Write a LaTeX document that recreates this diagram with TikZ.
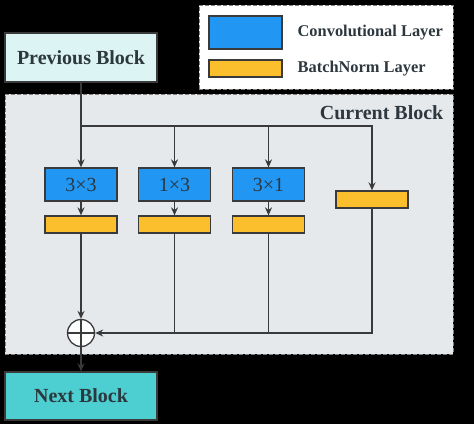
\documentclass[tikz,border=0pt]{standalone}
\usepackage{fontspec}
\setmainfont{Liberation Serif}
\usetikzlibrary{arrows.meta}
\definecolor{convblue}{RGB}{33,150,243}
\definecolor{bnorange}{RGB}{251,191,45}
\definecolor{linegray}{RGB}{58,58,58}
\definecolor{prevfill}{RGB}{221,244,244}
\definecolor{nextfill}{RGB}{77,206,208}
\definecolor{curfill}{RGB}{230,233,236}
\definecolor{txtgray}{RGB}{45,55,62}
\begin{document}
\begin{tikzpicture}[x=1pt,y=-1pt,line width=1.3pt,>={Stealth[length=8pt,width=7pt]},
  conv/.style={draw=linegray,fill=convblue,minimum width=72pt,minimum height=33pt,inner sep=0pt,
    font=\fontsize{20}{24}\selectfont,text=txtgray},
  bn/.style={draw=linegray,fill=bnorange,minimum width=72pt,minimum height=17pt,inner sep=0pt},
  blk/.style={draw=linegray,minimum width=152pt,minimum height=49pt,inner sep=0pt,
    font=\fontsize{20}{24}\selectfont\bfseries,text=txtgray},
  frame/.style={draw=gray,dash pattern=on 4pt off 2pt,line width=1pt,inner sep=0pt},
  lbl/.style={font=\fontsize{16.4}{20}\selectfont\bfseries,text=txtgray,anchor=west,inner sep=0pt},
  link/.style={draw=linegray}]
\useasboundingbox[fill=black] (0,0) rectangle (474,424);
\node[frame,fill=white,minimum width=254pt,minimum height=84pt] (legend) at (326,47) {};
\node[conv,minimum width=73pt] (keyconv) at (245.5,32.5) {};
\node[bn,minimum width=73pt] (keybn) at (245.5,68.5) {};
\node[lbl] (keyconvtxt) at (297,33) {Convolutional Layer};
\node[lbl] (keybntxt) at (297,69) {BatchNorm Layer};
\node[frame,fill=curfill,minimum width=448pt,minimum height=260pt] (cur) at (229,224) {};
\node[font=\fontsize{20}{24}\selectfont\bfseries,text=txtgray,anchor=east,inner sep=0pt] (curtxt) at (444,113) {Current Block};
\node[blk,fill=prevfill] (prev) at (81,57.5) {Previous Block};
\node[blk,fill=nextfill,minimum height=48pt] (next) at (81,396) {Next Block};
\node[conv] (convA) at (81,184.5) {3×3};
\node[conv] (convB) at (174.5,184.5) {1×3};
\node[conv] (convC) at (268.5,184.5) {3×1};
\node[bn] (bnA) at (81,224.5) {};
\node[bn] (bnB) at (174.5,224.5) {};
\node[bn] (bnC) at (268.5,224.5) {};
\node[bn] (bnD) at (372,199.5) {};
\node[circle,draw=linegray,fill=white!90!curfill,minimum size=27pt,inner sep=0pt,
  path picture={\draw[linegray] (path picture bounding box.north) -- (path picture bounding box.south)
    (path picture bounding box.west) -- (path picture bounding box.east);}] (sum) at (81,333) {};
\coordinate (split) at (81,126);
\draw[link,->] (prev) -- (convA);
\draw[link,->] (split) -| (convB);
\draw[link,->] (split) -| (convC);
\draw[link,->] (split) -| (bnD);
\draw[link,->] (convA) -- (bnA);
\draw[link,->] (convB) -- (bnB);
\draw[link,->] (convC) -- (bnC);
\draw[link,->] (bnA) -- (sum);
\draw[link] (bnB) -- (bnB |- sum);
\draw[link] (bnC) -- (bnC |- sum);
\draw[link,->] (bnD) |- (sum);
\draw[link,->] (sum) -- (next);
\end{tikzpicture}
\end{document}
